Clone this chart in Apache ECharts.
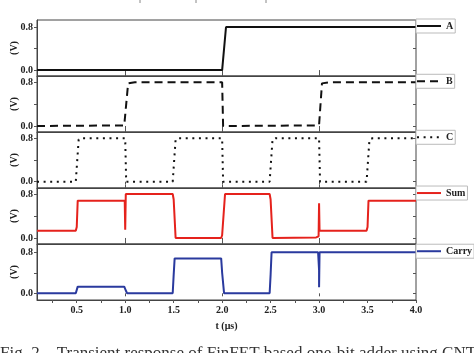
<!DOCTYPE html>
<html><head><meta charset="utf-8">
<script src="https://cdn.jsdelivr.net/npm/echarts@6/dist/echarts.min.js"></script>
<style>html,body{margin:0;padding:0;background:#fff}#c{width:474px;height:353px}</style>
</head><body><div id="c"></div>
<script>
// ---- data ----
const seriesNames = ['A', 'B', 'C', 'Sum', 'Carry'];
const xTickLabels = [0.5, 1.0, 1.5, 2.0, 2.5, 3.0, 3.5, 4.0];
const yTickLabels = [0.0, 0.8];
const dataA = [[0.09,0],[2.0,0],[2.04,0.8],[4.0,0.8]];
const dataB = [[0.09,0],[0.99,0.01],[1.0,0.02],[1.03,0.78],[1.1,0.8],[2.0,0.8],[2.01,0],[2.97,0.01],[3.0,0.02],[3.03,0.78],[3.1,0.8],[4.0,0.8]];
const dataC = [[0.09,0],[0.49,0],[0.5,0.02],[0.52,0.78],[0.55,0.8],[1.0,0.8],[1.01,0],[1.49,0],[1.5,0.02],[1.52,0.78],[1.55,0.8],[2.0,0.8],[2.01,0],[2.49,0],[2.5,0.02],[2.52,0.78],[2.55,0.8],[3.0,0.8],[3.01,0],[3.49,0],[3.5,0.02],[3.52,0.78],[3.55,0.8],[4.0,0.8]];
const dataSum = [[0.09,0.13],[0.49,0.13],[0.5,0.2],[0.51,0.68],[0.995,0.68],[1.0,0.15],[1.006,0.8],[1.49,0.8],[1.5,0.7],[1.52,0],[1.99,0],[2.0,0.05],[2.03,0.8],[2.49,0.8],[2.5,0.7],[2.52,0],[2.97,0.01],[2.995,0.03],[3.0,0.63],[3.005,0.13],[3.49,0.13],[3.5,0.2],[3.51,0.68],[4.0,0.68]];
const dataCarry = [[0.09,0],[0.49,0],[0.51,0.13],[0.99,0.13],[1.01,0.04],[1.02,0],[1.49,0],[1.5,0.36],[1.51,0.68],[1.99,0.68],[2.0,0.4],[2.02,0],[2.49,0],[2.5,0.36],[2.51,0.8],[2.99,0.8],[3.0,0.45],[3.0,0.12],[3.005,0.8],[4.0,0.8]];
const allData = [dataA, dataB, dataC, dataSum, dataCarry];

// ---- layout / style ----
const colors = ['#111', '#111', '#111', '#e5221c', '#2a3a9e'];
const lineTypes = ['solid', [8, 5], [2, 4.6], 'solid', 'solid'];
const panelTops = [20, 76, 132, 188, 244];
const panelH = 56;
const xMin = 0.09, xMax = 4.0;
const yMins = [-0.11, -0.11, -0.116, -0.11, -0.13];
const yMaxs = [0.93, 0.915, 0.916, 0.91, 0.96];
const font = 'Liberation Serif';

const minorX = [];
for (let k = 1; k <= 16; k++) minorX.push(k * 0.25);

const grids = [], xAxes = [], yAxes = [], series = [], legends = [];
for (let i = 0; i < 5; i++) {
  const last = i === 4;
  const yMin = yMins[i], yMax = yMaxs[i];
  grids.push({left: 37, width: 379, top: panelTops[i], height: panelH, outerBoundsMode: 'none', containLabel: false,
    show: true, borderColor: '#444', borderWidth: 1, backgroundColor: 'rgba(0,0,0,0)'});
  xAxes.push({type: 'value', gridIndex: i, min: xMin, max: xMax,
    axisLine: {show: true, onZero: false, lineStyle: {color: '#444', width: 1}},
    axisTick: {show: true, inside: !last, length: 3, lineStyle: {color: '#555'},
      customValues: last ? minorX : [1, 2, 3]},
    axisLabel: {show: last, customValues: xTickLabels, formatter: v => v.toFixed(1),
      fontFamily: font, fontWeight: 'bold', fontSize: 10, color: '#222', margin: 5},
    splitLine: {show: false},
    name: last ? 't (μs)' : '', nameLocation: 'middle', nameGap: 21, nameMoveOverlap: false,
    nameTextStyle: {fontFamily: font, fontWeight: 'bold', fontSize: 10, color: '#222'}});
  xAxes.push({type: 'value', gridIndex: i, min: xMin, max: xMax, position: 'top',
    axisLine: {show: false}, axisLabel: {show: false}, splitLine: {show: false},
    axisTick: {show: true, inside: true, length: 3, lineStyle: {color: '#555'}, customValues: [1, 2, 3]}});
  yAxes.push({type: 'value', gridIndex: i, min: yMin, max: yMax,
    axisLine: {show: true, onZero: false, lineStyle: {color: '#444', width: 1}},
    axisTick: {show: true, length: 3, lineStyle: {color: '#555'}, customValues: [0, 0.4, 0.8]},
    axisLabel: {customValues: yTickLabels, formatter: v => v.toFixed(1),
      fontFamily: font, fontWeight: 'bold', fontSize: 10, color: '#222', margin: 4},
    splitLine: {show: false},
    name: '(V)', nameLocation: 'middle', nameGap: 18, nameRotate: 90, nameMoveOverlap: false,
    nameTextStyle: {fontFamily: font, fontWeight: 'bold', fontSize: 10, color: '#222'}});
  yAxes.push({type: 'value', gridIndex: i, min: yMin, max: yMax, position: 'right',
    axisLine: {show: false}, axisLabel: {show: false}, splitLine: {show: false},
    axisTick: {show: true, inside: true, length: 3, lineStyle: {color: '#555'}, customValues: [0, 0.4, 0.8]}});
  series.push({name: seriesNames[i], type: 'line', xAxisIndex: 2 * i, yAxisIndex: 2 * i,
    data: allData[i], symbol: 'none', animation: false, clip: true,
    lineStyle: {color: colors[i], width: 2, type: lineTypes[i]}, itemStyle: {color: colors[i]}});
  const y08 = panelTops[i] + panelH * (yMax - 0.8) / (yMax - yMin);
  legends.push({data: [seriesNames[i]], left: 416, top: y08 - 8, orient: 'horizontal',
    padding: [2, 2, 2, 0], itemWidth: 24, itemHeight: 12, borderColor: '#bbb', borderWidth: 1,
    backgroundColor: '#fff', selectedMode: false,
    itemStyle: {opacity: 0},
    lineStyle: {width: 2},
    textStyle: {fontFamily: font, fontWeight: 'bold', fontSize: 10, color: '#222'}});
}

const chart = echarts.init(document.getElementById('c'), null, {renderer: 'canvas'});
chart.setOption({
  animation: false, backgroundColor: '#fff',
  grid: grids, xAxis: xAxes, yAxis: yAxes, series: series, legend: legends,
  graphic: [
    {type: 'line', shape: {x1: 140, y1: 0, x2: 140, y2: 3}, style: {stroke: '#888', lineWidth: 1}},
    {type: 'line', shape: {x1: 196, y1: 0, x2: 196, y2: 3}, style: {stroke: '#888', lineWidth: 1}},
    {type: 'line', shape: {x1: 266, y1: 0, x2: 266, y2: 3}, style: {stroke: '#888', lineWidth: 1}},
    {type: 'text', left: 0, top: 345, style: {text: 'Fig. 2.   Transient response of FinFET-based one-bit adder using CNTFET',
      font: '17px "Liberation Serif"', fill: '#333'}}
  ]
});
</script></body></html>
